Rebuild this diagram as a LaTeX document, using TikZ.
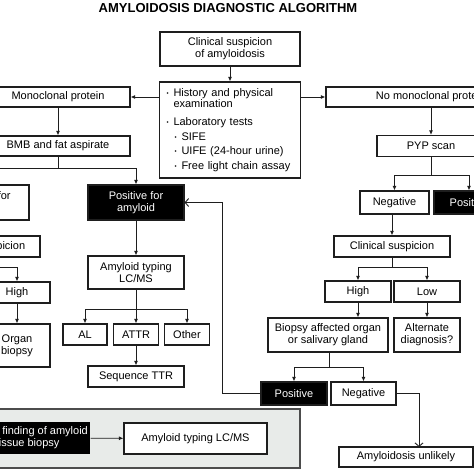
\documentclass[tikz,border=0pt]{standalone}
\usepackage{xcolor}
\usepackage{fontspec}
\setmainfont{Liberation Sans}
\usepackage{tikz}
\usetikzlibrary{arrows.meta}

\definecolor{boxline}{RGB}{30,30,30}
\definecolor{panelgray}{RGB}{232,235,233}
\newcommand{\sbul}{\makebox[7pt][l]{\raisebox{1pt}{\fontsize{6}{6}\selectfont\textbullet}}}

\tikzset{
	box/.style={draw=boxline, line width=1.1pt, fill=white, align=center, inner sep=1pt,
		font=\fontsize{11}{12}\selectfont},
	blk/.style={box, fill=black, text=white},
	ln/.style={draw=boxline, line width=0.9pt},
	arr/.style={ln, -{Latex[length=4.5pt,width=4pt]}},
	arro/.style={ln, -{Straight Barb[length=3.5pt,width=8pt]}},
}

\begin{document}
\begin{tikzpicture}[x=1pt, y=-1pt]
	\useasboundingbox (0,0) rectangle (474,474);
	\clip (0,0) rectangle (474,474);
	\fill[white] (0,0) rectangle (474,474);

	\node[font=\fontsize{13}{15}\selectfont\bfseries] (title) at (228,8) {AMYLOIDOSIS DIAGNOSTIC ALGORITHM};

	\node[box, minimum width=140pt, minimum height=34pt] (clin) at (230,49) {Clinical suspicion\\of amyloidosis};
	\node[box, minimum width=141pt, minimum height=96pt, text width=127pt, inner xsep=7pt, align=left,
		font=\fontsize{11}{11}\selectfont] (hist) at (230,130)
		{\sbul History and physical\\
		\hspace*{7pt}examination\\[7pt]
		\sbul Laboratory tests\\[4pt]
		\hspace*{8pt}\sbul SIFE\\[3pt]
		\hspace*{8pt}\sbul UIFE (24-hour urine)\\[4pt]
		\hspace*{8pt}\sbul Free light chain assay};

	\node[box, minimum width=144pt, minimum height=20pt] (mono) at (58,97) {Monoclonal protein};
	\node[box, minimum width=144pt, minimum height=20pt] (bmb) at (58,146) {BMB and fat aspirate};
	\node[box, minimum width=96pt, minimum height=35pt] (negamy) at (-19,202.5) {Negative for\\amyloid};
	\node[box, minimum width=114pt, minimum height=21pt] (clinL) at (-17,246.5) {Clinical suspicion};
	\node[box, minimum width=66pt, minimum height=21pt] (highL) at (17,292.5) {High};
	\node[box, minimum width=66pt, minimum height=43pt] (organ) at (17,345.5) {Organ\\biopsy};

	\node[blk, minimum width=96pt, minimum height=35pt] (posamy) at (136,202.5) {Positive for\\amyloid};
	\node[box, minimum width=96pt, minimum height=33pt] (typing) at (136,272.5) {Amyloid typing\\LC/MS};
	\node[box, minimum width=44pt, minimum height=21pt] (al) at (85,334.5) {AL};
	\node[box, minimum width=45pt, minimum height=21pt] (attr) at (136,334.5) {ATTR};
	\node[box, minimum width=45pt, minimum height=21pt] (other) at (187,334.5) {Other};
	\node[box, minimum width=96pt, minimum height=21pt] (seqttr) at (136,376.5) {Sequence TTR};

	\node[box, minimum width=210pt, minimum height=20pt] (nomono) at (431,97) {No monoclonal protein};
	\node[box, minimum width=108pt, minimum height=21pt] (pyp) at (431,146) {PYP scan};
	\node[box, minimum width=69pt, minimum height=23pt] (negR) at (394.5,202.5) {Negative};
	\node[blk, minimum width=70pt, minimum height=23pt] (posR) at (469,202.5) {Positive};
	\node[box, minimum width=116pt, minimum height=21pt] (clinR) at (392,246.5) {Clinical suspicion};
	\node[box, minimum width=66pt, minimum height=21pt] (highR) at (358,291.5) {High};
	\node[box, minimum width=66pt, minimum height=21pt] (lowR) at (427,291.5) {Low};
	\node[box, minimum width=120pt, minimum height=34pt] (biopsy) at (328,335) {Biopsy affected organ\\or salivary gland};
	\node[box, minimum width=66pt, minimum height=34pt] (altdx) at (427,335) {Alternate\\diagnosis?};
	\node[blk, minimum width=66pt, minimum height=23pt] (posB) at (294,393.5) {Positive};
	\node[box, minimum width=65pt, minimum height=23pt] (negB) at (363.5,393.5) {Negative};
	\node[box, minimum width=134pt, minimum height=20pt] (unlikely) at (406,457) {Amyloidosis unlikely};

	\draw[draw=gray!60!black, line width=1.2pt, fill=panelgray] (-20,409) rectangle (300,468);
	\node[blk, minimum width=140pt, minimum height=32pt, draw=none] (incid) at (20,438) {Incidental finding of amyloid\\on tissue biopsy};
	\node[box, minimum width=143pt, minimum height=31pt] (typing2) at (195.5,438.5) {Amyloid typing LC/MS};

	\coordinate (bsplit) at (58,168);
	\coordinate (tsplit) at (136,309);
	\coordinate (csplitL) at (-17,267);
	\coordinate (psplit) at (431,175);
	\coordinate (csplitR) at (392,267);
	\coordinate (bsplitR) at (329,367);
	\coordinate (loop) at (222,393.5);
	\coordinate (ulin) at (419,447);

	\draw[arr] (clin) -- (hist);
	\draw[arr] (hist.west |- mono.east) -- (mono.east);
	\draw[arr] (hist.east |- nomono.west) -- (nomono.west);
	\draw[arr] (mono) -- (bmb);
	\draw[ln] (bmb.south) -- (bsplit);
	\draw[arr] (bsplit) -| (posamy.north);
	\draw[arr] (bsplit) -| (negamy.north);
	\draw[arr] (negamy) -- (clinL);
	\draw[ln] (clinL.south) -- (csplitL);
	\draw[arr] (csplitL) -| (highL.north);
	\draw[arr] (highL) -- (organ);
	\draw[arr] (posamy) -- (typing);
	\draw[ln] (typing.south) -- (tsplit);
	\draw[arr] (tsplit) -| (al.north);
	\draw[arr] (tsplit) -| (other.north);
	\draw[arr] (tsplit) -- (attr.north);
	\draw[arr] (attr) -- (seqttr);

	\draw[arr] (nomono) -- (pyp);
	\draw[ln] (pyp.south) -- (psplit);
	\draw[arr] (psplit) -| (negR.north);
	\draw[arr] (psplit) -| (posR.north);
	\draw[arr] (negR.south -| clinR.north) -- (clinR.north);
	\draw[ln] (clinR.south) -- (csplitR);
	\draw[arr] (csplitR) -| (highR.north);
	\draw[arr] (csplitR) -| (lowR.north);
	\draw[arr] (highR.south) -- (highR.south |- biopsy.north);
	\draw[arr] (lowR) -- (altdx);
	\draw[ln] (biopsy.south -| bsplitR) -- (bsplitR);
	\draw[arr] (bsplitR) -| (posB.north);
	\draw[arr] (bsplitR) -| (negB.north);
	\draw[arro] (negB.east) -| (ulin);
	\draw[ln] (posB.west) -- (loop);
	\draw[arro] (loop) |- (posamy.east);
	\draw[arr] (incid) -- (typing2);
\end{tikzpicture}
\end{document}
